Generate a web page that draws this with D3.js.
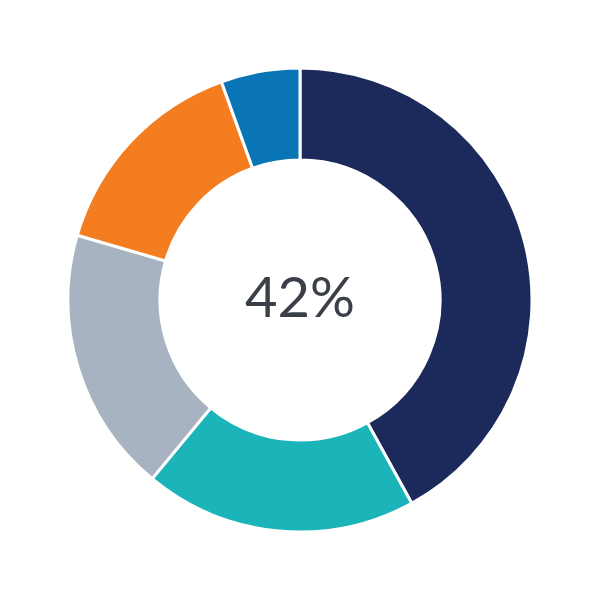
<!DOCTYPE html>
<html>
<head>
<meta charset="utf-8">
<script src="https://cdn.jsdelivr.net/npm/d3@7"></script>
<style>
  html, body { margin: 0; padding: 0; background: #fff; }
</style>
</head>
<body>
<svg id="chart" width="600" height="600"></svg>
<script>
  // valores de cada segmento (en %), en sentido horario desde arriba
  const categories = ["A", "B", "C", "D", "E"];
  const values = [42, 19, 18.5, 15, 5.5];
  const colors = ["#1b2a5a", "#1bb4b8", "#a8b3c1", "#f47d20", "#0a75b5"];
  const centerLabel = "42%";

  const width = 600, height = 600;
  const outerRadius = 232, innerRadius = 140;

  const svg = d3.select("#chart");
  const g = svg.append("g").attr("transform", `translate(${width / 2},${height / 2})`);

  const pie = d3.pie().sort(null).value((d) => d);
  const arc = d3.arc().innerRadius(innerRadius).outerRadius(outerRadius);

  g.selectAll("path")
    .data(pie(values))
    .enter()
    .append("path")
    .attr("d", arc)
    .attr("fill", (d, i) => colors[i])
    .attr("stroke", "#fff")
    .attr("stroke-width", 3);

  // texto central
  g.append("text")
    .attr("text-anchor", "middle")
    .attr("y", -3)
    .attr("dy", "0.35em")
    .attr("font-family", "Lato, 'Open Sans', sans-serif")
    .attr("font-weight", 400)
    .attr("font-size", "56px")
    .attr("fill", "#3a3f48")
    .text(centerLabel);
</script>
</body>
</html>
